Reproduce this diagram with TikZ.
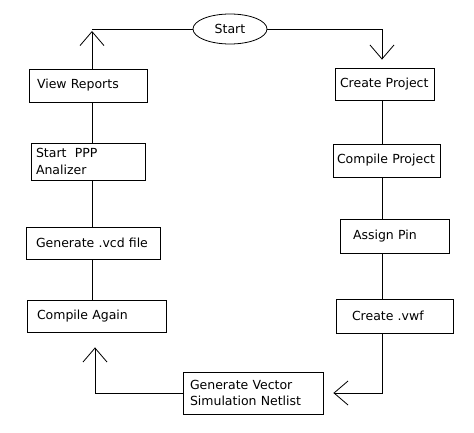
\documentclass[tikz,border=0pt]{standalone}
\usepackage{fontspec}
\setmainfont{DejaVu Sans}
\usetikzlibrary{arrows.meta,shapes.geometric,calc}

\tikzset{
  box/.style={draw,rectangle,align=left,inner xsep=7pt,inner ysep=0pt},
  flow/.style={draw,line width=0.8pt},
  barb/.style={-{Straight Barb[length=14pt,width=24pt,line width=0.8pt]}}
}

\begin{document}
\begin{tikzpicture}[x=1pt,y=-1pt,line width=0.8pt,font=\fontsize{12.5}{16.5}\selectfont]
  \useasboundingbox (0,0) rectangle (474,433);
  % left and right trunk
  \coordinate (lx) at (92,0);
  \coordinate (rx) at (382,0);

  \node (start) [draw,ellipse,minimum width=74pt,minimum height=30pt,inner sep=0pt] at (230,29) {Start};

  \node (view) [box,inner xsep=8pt,text width=102pt,minimum height=33pt] at (88,85.5) {View Reports};
  \node (ppp) [box,inner xsep=5pt,text width=104pt,minimum height=37pt] at (88,161.5) {Start\ \ PPP\\Analizer};
  \node (vcd) [box,inner xsep=10pt,text width=114pt,minimum height=32pt] at (93,243) {Generate .vcd file};
  \node (again) [box,inner xsep=10pt,text width=119pt,minimum height=32pt] at (96.5,316) {Compile Again};
  \node (gen) [box,text width=126pt,minimum height=42pt] at (253,393) {Generate Vector\\Simulation Netlist};

  \node (create) [box,inner xsep=5pt,text width=89pt,minimum height=32pt] at (384.5,84) {Create Project};
  \node (compile) [box,inner xsep=4pt,text width=99pt,minimum height=33pt] at (386.5,160.5) {Compile Project};
  \node (pin) [box,inner xsep=13pt,text width=83pt,minimum height=34pt] at (394.5,236) {Assign Pin\\[4pt]};
  \node (vwf) [box,inner xsep=16pt,text width=85pt,minimum height=34pt] at (394.5,316) {Create .vwf};

  \draw[flow,barb,shorten >=8pt] (start.east) -| (create.north -| rx);
  \path[flow]
    (create.south -| rx) edge (compile.north -| rx)
    (compile.south -| rx) edge (pin.north -| rx)
    (pin.south -| rx) edge (vwf.north -| rx);
  \draw[flow,barb,shorten >=10pt] (vwf.south -| rx) |- (gen.east);
  \draw[flow,barb,shorten >=15pt] (gen.west) -| (again.south -| 95,0);
  \path[flow]
    (again.north -| lx) edge (vcd.south -| lx)
    (vcd.north -| lx) edge (ppp.south -| lx)
    (ppp.north -| lx) edge (view.south -| lx);
  \draw[flow,barb,shorten >=2pt] (view.north -| lx) -- (start.west -| lx);
  \draw[flow] (start.west -| lx) -- (start.west);
\end{tikzpicture}
\end{document}
